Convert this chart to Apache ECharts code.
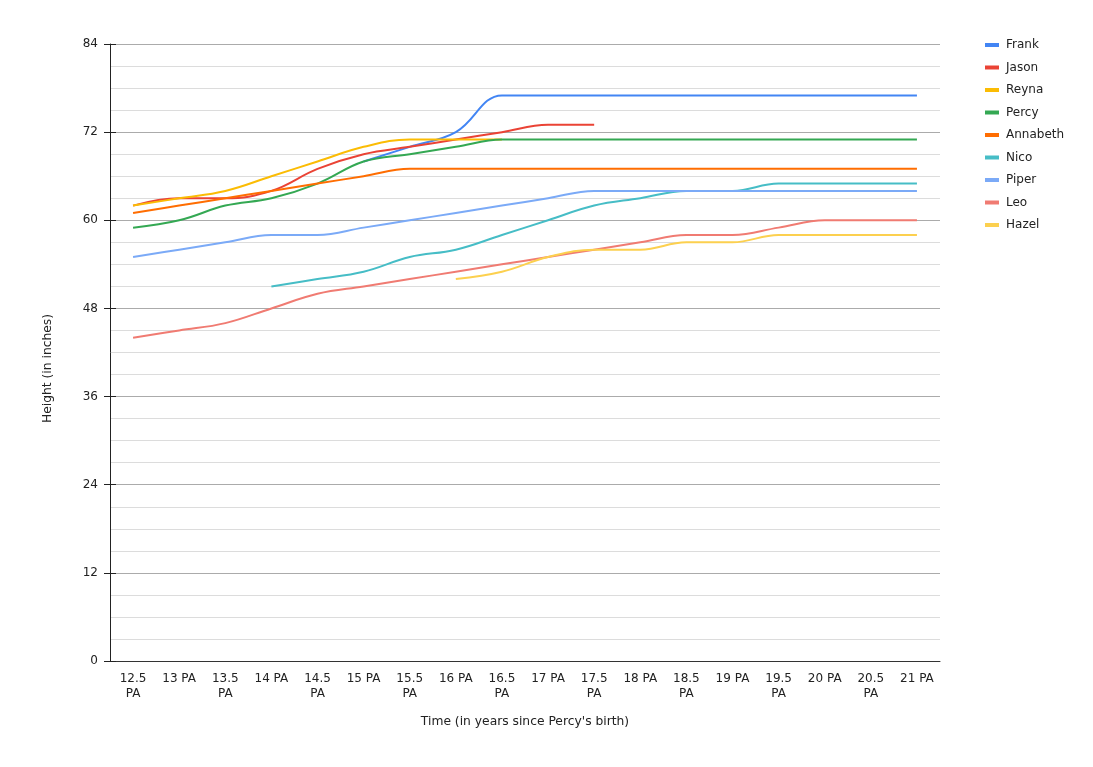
<!DOCTYPE html>
<html>
<head>
<meta charset="utf-8">
<title>Heights</title>
<script src="https://cdn.jsdelivr.net/npm/echarts@6/dist/echarts.min.js"></script>
<style>
  html, body { margin: 0; padding: 0; background: #fff; }
  #chart { width: 1093px; height: 767px; }
</style>
</head>
<body>
<div id="chart"></div>
<script>
// time in years since Percy's birth
const categories = ['12.5 PA', '13 PA', '13.5 PA', '14 PA', '14.5 PA', '15 PA', '15.5 PA', '16 PA', '16.5 PA',
  '17 PA', '17.5 PA', '18 PA', '18.5 PA', '19 PA', '19.5 PA', '20 PA', '20.5 PA', '21 PA']

// heights in inches, null = no reading
const frank    = [null, null, null, null, null, 68, 70, 72, 77, 77, 77, 77, 77, 77, 77, 77, 77, 77]
const jason    = [62, 63, 63, 64, 67, 69, 70, 71, 72, 73, 73, null, null, null, null, null, null, null]
const reyna    = [62, 63, 64, 66, 68, 70, 71, 71, 71, null, null, null, null, null, null, null, null, null]
const percy    = [59, 60, 62, 63, 65, 68, 69, 70, 71, 71, 71, 71, 71, 71, 71, 71, 71, 71]
const annabeth = [61, 62, 63, 64, 65, 66, 67, 67, 67, 67, 67, 67, 67, 67, 67, 67, 67, 67]
const nico     = [null, null, null, 51, 52, 53, 55, 56, 58, 60, 62, 63, 64, 64, 65, 65, 65, 65]
const piper    = [55, 56, 57, 58, 58, 59, 60, 61, 62, 63, 64, 64, 64, 64, 64, 64, 64, 64]
const leo      = [44, 45, 46, 48, 50, 51, 52, 53, 54, 55, 56, 57, 58, 58, 59, 60, 60, 60]
const hazel    = [null, null, null, null, null, null, null, 52, 53, 55, 56, 56, 57, 57, 58, 58, 58, 58]

const yTicks = [0, 12, 24, 36, 48, 60, 72, 84]

const people = [
  ['Frank', frank, '#4285f4'],
  ['Jason', jason, '#ea4335'],
  ['Reyna', reyna, '#fbbc04'],
  ['Percy', percy, '#34a853'],
  ['Annabeth', annabeth, '#ff6d01'],
  ['Nico', nico, '#46bdc6'],
  ['Piper', piper, '#7baaf7'],
  ['Leo', leo, '#f07b72'],
  ['Hazel', hazel, '#fcd04f']
]

const font = 'DejaVu Sans, Verdana, sans-serif'

const chart = echarts.init(document.getElementById('chart'))
chart.setOption({
  animation: false,
  textStyle: { fontFamily: font },
  grid: { left: 110, right: 153, top: 44, bottom: 106 },
  legend: {
    orient: 'vertical',
    left: 980,
    top: 34,
    itemWidth: 14,
    itemHeight: 4,
    itemGap: 10.5,
    icon: 'rect',
    textStyle: { fontSize: 12, color: '#222', fontFamily: font, padding: [0, 0, 0, 2] },
    data: people.map(p => p[0])
  },
  xAxis: [{
    type: 'category',
    data: categories,
    name: 'Time (in years since Percy\'s birth)',
    nameLocation: 'middle',
    nameGap: 55,
    nameTextStyle: { fontSize: 12.3, color: '#222', fontFamily: font },
    axisLine: { lineStyle: { color: '#333', width: 1 } },
    axisTick: { alignWithLabel: true, length: 5, lineStyle: { color: '#333' } },
    axisLabel: {
      interval: 0,
      margin: 10,
      fontSize: 12,
      lineHeight: 15,
      color: '#222',
      formatter: v => v.indexOf('.') >= 0 ? v.replace(' ', '\n') : v
    }
  }, {
    type: 'category',
    data: categories,
    position: 'bottom',
    axisLine: { show: false },
    axisTick: { alignWithLabel: true, inside: true, length: 4, lineStyle: { color: '#333' } },
    axisLabel: { show: false }
  }],
  yAxis: [{
    type: 'value',
    min: yTicks[0],
    max: yTicks[yTicks.length - 1],
    interval: 12,
    name: 'Height (in inches)',
    nameLocation: 'middle',
    nameGap: 56,
    nameRotate: 90,
    nameTextStyle: { fontSize: 12.3, color: '#222', fontFamily: font, padding: [0, 32, 0, 0] },
    axisLine: { show: true, lineStyle: { color: '#222' } },
    axisTick: { show: true, length: 6, lineStyle: { color: '#222' } },
    axisLabel: { margin: 12, fontSize: 12, color: '#222' },
    splitLine: { lineStyle: { color: '#ababab' } },
    minorTick: { show: false, splitNumber: 4 },
    minorSplitLine: { show: true, lineStyle: { color: '#dcdcdc' } }
  }, {
    type: 'value',
    min: yTicks[0],
    max: yTicks[yTicks.length - 1],
    interval: 12,
    position: 'left',
    axisLine: { show: false },
    axisTick: { show: true, inside: true, length: 6, lineStyle: { color: '#222' } },
    axisLabel: { show: false },
    splitLine: { show: false }
  }],
  series: people.map(p => ({
    name: p[0],
    type: 'line',
    data: p[1],
    smooth: 0.4,
    symbol: 'none',
    lineStyle: { width: 2, color: p[2] },
    itemStyle: { color: p[2] }
  }))
})
</script>
</body>
</html>
